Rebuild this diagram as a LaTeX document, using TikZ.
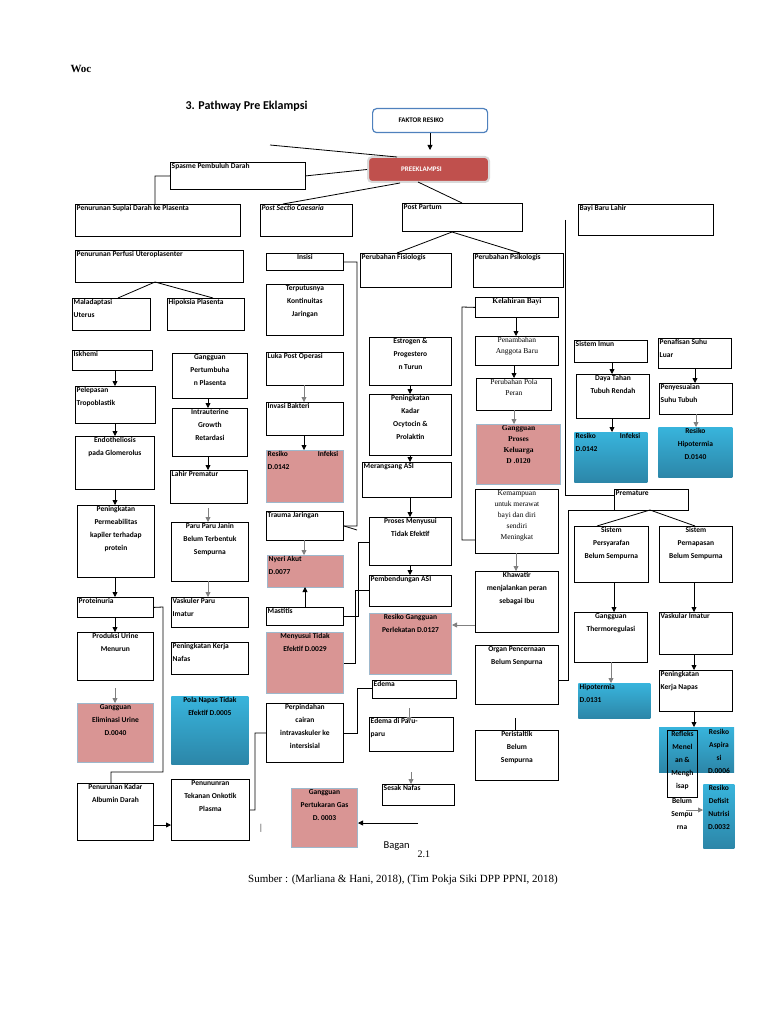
\documentclass[tikz,border=0pt]{standalone}
\usepackage{fontspec}
\setmainfont{Liberation Serif}
\newfontfamily\cb{Carlito}
\usetikzlibrary{arrows.meta}
\definecolor{rd}{HTML}{D99594}
\definecolor{rdb}{HTML}{9DB8CC}
\definecolor{pre}{HTML}{C0504D}
\definecolor{bla}{HTML}{38B4DC}
\definecolor{blb}{HTML}{2C86A8}
\definecolor{fk}{HTML}{4F81BD}
\tikzset{
 bx/.style={draw, line width=0.8pt, inner sep=0pt},
 rb/.style={fill=rd, draw=rdb, line width=1pt},
 bb/.style={top color=bla, bottom color=blb, draw=none},
 lab/.style={inner sep=1.5pt, font=\cb\bfseries\fontsize{7.5}{13}\selectfont},
 slab/.style={inner sep=1.5pt, font=\bfseries\fontsize{7.5}{11}\selectfont},
 ar/.style={-{Triangle[length=5pt,width=5pt]}, line width=0.8pt},
 gar/.style={ar, draw=gray},
 ln/.style={line width=0.8pt}
}
\newcommand\bxl[7]{\node[bx,#6,minimum width=#4,minimum height=#5,anchor=north west,label={[lab,anchor=north west,align=left]north west:{#7}}] (#1) at (#2,#3) {};}
\newcommand\bxc[7]{\node[bx,#6,minimum width=#4,minimum height=#5,anchor=north west,label={[lab,anchor=north,align=center]north:{#7}}] (#1) at (#2,#3) {};}
\newcommand\bxs[7]{\node[bx,#6,minimum width=#4,minimum height=#5,anchor=north west,label={[slab,anchor=north,align=center]north:{#7}}] (#1) at (#2,#3) {};}
\begin{document}
\begin{tikzpicture}[x=1pt,y=-1pt]
\useasboundingbox (0,0) rectangle (768,1024);
\node[anchor=west,font=\bfseries\fontsize{11}{13}\selectfont] (woc) at (67,69) {Woc};
\node[anchor=west,font=\cb\bfseries\fontsize{12}{14}\selectfont] (title) at (182,106) {3. Pathway Pre Eklampsi};
% top
\node[draw=fk,line width=1.2pt,rounded corners=4pt,minimum width=115,minimum height=24,anchor=north west,font=\cb\bfseries\fontsize{7}{9}\selectfont] (fr) at (372,108) {FAKTOR RESIKO\hspace*{18pt}};
\node[fill=pre,draw=gray!30,line width=2pt,rounded corners=4pt,minimum width=121,minimum height=25,anchor=north west,text=white,font=\cb\bfseries\fontsize{7}{9}\selectfont] (pe) at (367,156) {PREEKLAMPSI\hspace*{14pt}};
\draw[ar] (fr.south -| 430,0) -- (430,150);
\coordinate (free1) at (270,145);
\draw[ln] (free1) -- (397,157);
\bxl{sp}{170}{162}{135}{27}{}{Spasme Pembuluh Darah}
\draw[ln] (sp.east) -- (pe.west);
\bxl{ps}{75}{204}{165}{32}{}{Penurunan Suplai Darah ke Plasenta}
\draw[ln] (sp.west) -- (155,176) -- (155,204);
\bxl{psc}{260}{204}{92}{32}{}{\itshape Post Sectio Caesaria}
\draw[ln] (400,183) -- (283,204);
\bxl{pp}{402}{203}{120}{28}{}{Post Partum}
\draw[ln] (418,182) -- (462,203);
\bxl{bbl}{578}{204}{135}{31}{}{Bayi Baru Lahir}
% left
\bxl{ppu}{75}{250}{168}{32}{}{Penurunan Perfusi Uteroplasenter}
\bxl{mal}{72}{298}{78}{32}{}{Maladaptasi\\Uterus}
\bxl{hip}{167}{298}{77}{32}{}{Hipoksia Plasenta}
\draw[ln] (155,282) -- (118,298); \draw[ln] (155,282) -- (213,298);
\bxl{isk}{72}{350}{80}{20}{}{Iskhemi}
\bxl{pel}{75}{386}{80}{37}{}{Pelepasan\\Tropoblastik}
\bxc{end}{75}{436}{79}{53}{}{Endotheliosis\\pada Glomerolus}
\bxc{pkp}{77}{505}{77}{72}{}{Peningkatan\\Permeabilitas\\kapiler terhadap\\protein}
\bxl{pro}{77}{597}{76}{20}{}{Proteinuria}
\bxc{pum}{77}{632}{76}{48}{}{Produksi Urine\\Menurun}
\bxc{geu}{77}{703}{76}{59}{rb}{Gangguan\\Eliminasi Urine\\D.0040}
\bxc{pka}{77}{783}{76}{57}{}{Penurunan Kadar\\Albumin Darah}
\draw[ar] (115,370) -- (115,386);
\draw[ar] (115,423) -- (115,436);
\draw[ar] (115,489) -- (115,505);
\draw[ar] (115,577) -- (115,597);
\draw[ar] (115,617) -- (115,632);
\draw[gar] (115,688) -- (115,703);
\draw[ln] (pro.east) -- (163,607) -- (163,772) -- (111,772) -- (111,783);
% mid-left
\bxc{gpp}{172}{353}{75}{45}{}{Gangguan\\Pertumbuha\\n Plasenta}
\bxc{igr}{172}{408}{75}{48}{}{Intrauterine\\Growth\\Retardasi}
\bxl{lpr}{170}{470}{77}{33}{}{Lahir Prematur}
\bxc{ppj}{171}{522}{77}{59}{}{Paru Paru Janin\\Belum Terbentuk\\Sempurna}
\bxl{vpi}{171}{597}{77}{30}{}{Vaskuler Paru\\Imatur}
\bxl{pkn}{171}{642}{77}{32}{}{Peningkatan Kerja\\Nafas}
\bxc{pnt}{171}{696}{77}{68}{bb}{Pola Napas Tidak\\Efektif D.0005}
\bxc{pto}{171}{779}{78}{61}{}{Penununran\\Tekanan Onkotik\\Plasma}
\draw[ar] (208,398) -- (208,408);
\draw[ar] (208,456) -- (208,470);
\draw[gar] (208,508) -- (208,522);
\draw[gar] (208,581) -- (208,597);
\draw[ar] (pka.east |- 0,825) -- (pto.west |- 0,825);
% col 3
\bxc{ins}{266}{253}{77}{17}{}{Insisi}
\bxc{tkj}{266}{284}{77}{51}{}{Terputusnya\\Kontinuitas\\Jaringan}
\bxl{lpo}{266}{352}{77}{33}{}{Luka Post Operasi}
\bxl{ivb}{266}{402}{77}{33}{}{Invasi Bakteri}
\bxl{rif}{266}{450}{77}{52}{rb}{Resiko\hspace{30pt}Infeksi\\D.0142}
\bxl{trj}{266}{511}{77}{29}{}{Trauma Jaringan}
\bxl{nya}{267}{555}{76}{32}{rb}{Nyeri Akut\\D.0077}
\bxl{mas}{266}{607}{77}{18}{}{Mastitis}
\bxc{mte}{266}{632}{77}{61}{rb}{Menyusui Tidak\\Efektif D.0029}
\bxc{pci}{266}{703}{77}{59}{}{Perpindahan\\cairan\\intravaskuler ke\\intersisial}
\bxc{gpg}{291}{788}{66}{59}{rb}{Gangguan\\Pertukaran Gas\\D. 0003}
\node[font=\fontsize{9}{10}\selectfont] (bar) at (261,828) {|};
\draw[gar] (304,385) -- (304,402);
\draw[ar] (304,435) -- (304,450);
\draw[gar] (304,540) -- (304,555);
\draw[ar] (305,607) -- (305,587);
\draw[ln] (ins.east) -- (357,262) |- (trj.east);
\draw[ln] (pci.west) -- (255,733) |- (pto.east);
% col 4
\bxl{pfi}{360}{253}{91}{34}{}{Perubahan Fisiologis}
\bxl{pps}{473}{253}{90}{34}{}{Perubahan Psikologis}
\draw[ln] (452,232) -- (397,253); \draw[ln] (452,232) -- (520,253);
\bxc{ept}{369}{337}{82}{48}{}{Estrogen \&\\Progestero\\n Turun}
\bxc{pko}{369}{394}{82}{61}{}{Peningkatan\\Kadar\\Ocytocin \&\\Prolaktin}
\bxl{mas2}{362}{462}{89}{35}{}{Merangsang ASI}
\bxc{pmt}{369}{517}{82}{48}{}{Proses Menyusui\\Tidak Efektif}
\bxl{pas}{369}{575}{82}{31}{}{Pembendungan ASI}
\bxc{rgp}{369}{613}{82}{61}{rb}{Resiko Gangguan\\Perlekatan D.0127}
\bxl{ede}{372}{680}{84}{18}{}{Edema}
\bxl{edp}{369}{717}{84}{34}{}{Edema di Paru-\\paru}
\bxl{ssn}{382}{784}{72}{21}{}{Sesak Nafas}
\draw[ar] (410,385) -- (410,394);
\draw[ar] (410,455) -- (410,462);
\draw[ar] (410,497) -- (410,517);
\draw[ar] (410,565) -- (410,575);
\draw[gar] (409,708) -- (409,722);
\draw[gar] (411,772) -- (411,784);
\draw[ln] (trj.east) -- (357,530);
\draw[ln] (pmt.west |- 0,542) -- (358,542) |- (mas.east);
\draw[ln] (pas.west |- 0,590) -- (355,590) |- (mte.east);
\draw[ln] (ede.west |- 0,688) -- (357,688) |- (pci.east);
\coordinate (free2) at (418,823);
\draw[ar] (free2) -- (gpg.east |- free2);
% col 5
\bxs{klb}{475}{297}{83}{20}{}{Kelahiran Bayi}
\bxs{pab}{475}{336}{83}{29}{}{\mdseries Penambahan\\\mdseries Anggota Baru}
\bxs{ppr}{476}{378}{75}{32}{}{\mdseries Perubahan Pola\\\mdseries Peran}
\bxs{gpk}{476}{424}{84}{60}{rb}{Gangguan\\Proses\\Keluarga\\D .0120}
\bxs{kmr}{475}{489}{83}{64}{}{\mdseries Kemampuan\\\mdseries untuk merawat\\\mdseries bayi dan diri\\\mdseries sendiri\\\mdseries Meningkat}
\bxc{kmp}{475}{571}{83}{61}{}{Khawatir\\menjalankan peran\\sebagai Ibu}
\bxc{opb}{475}{645}{83}{59}{}{Organ Pencernaan\\Belum Senpurna}
\bxc{pbs}{475}{730}{83}{50}{}{Peristaltik\\Belum\\Sempurna}
\draw[ar] (516,317) -- (516,336);
\draw[ar] (514,365) -- (514,378);
\draw[gar] (514,410) -- (514,424);
\draw[gar] (516,553) -- (516,571);
\draw[ln] (515,718) -- (pbs.north -| 515,0);
\draw[gar] (kmp.west |- 0,625) -- (rgp.east |- 0,625);
\draw[ln] (klb.west) -- (462,307) |- (kmr.west |- 0,540);
% right
\bxl{sim}{574}{340}{73}{22}{}{Sistem Imun}
\bxc{dtt}{576}{374}{73}{44}{}{Daya Tahan\\Tubuh Rendah}
\bxl{rif2}{574}{432}{73}{50}{bb}{Resiko\hspace{24pt}Infeksi\\D.0142}
\bxl{psl}{658}{338}{73}{30}{}{Penafisan Suhu\\Luar}
\bxl{pst}{659}{383}{73}{31}{}{Penyesuaian\\Suhu Tubuh}
\bxc{rhp}{658}{427}{74}{50}{bb}{Resiko\\Hipotermia\\D.0140}
\draw[ar] (612,362) -- (612,374);
\draw[ar] (612,418) -- (612,432);
\draw[ar] (695,368) -- (695,383);
\draw[gar] (696,414) -- (696,427);
\bxl{prm}{614}{489}{74}{21}{}{Premature}
\draw[ln] (565,220) -- (565,495) -- (prm.west |- 0,495);
\draw[ln] (opb.east |- 0,680) -- (568,680) |- (prm.south west);
\bxc{spb}{574}{526}{74}{56}{}{Sistem\\Persyarafan\\Belum Sempurna}
\bxc{snb}{659}{526}{73}{56}{}{Sistem\\Pernapasan\\Belum Sempurna}
\draw[ln] (650,510) -- (597,526); \draw[ln] (650,510) -- (695,526);
\bxc{gth}{574}{612}{73}{50}{}{Gangguan\\Thermoregulasi}
\bxl{hpt}{578}{683}{72}{35}{bb}{Hipotermia\\D.0131}
\bxl{vim}{659}{612}{73}{42}{}{Vaskular Imatur}
\bxl{pkj}{659}{670}{73}{41}{}{Peningkatan\\Kerja Napas}
\draw[ar] (614,582) -- (614,612);
\draw[gar] (611,662) -- (611,683);
\draw[ar] (694,582) -- (694,612);
\draw[ar] (694,654) -- (694,670);
\node[bb,minimum width=75,minimum height=45,anchor=north west] (blu) at (659,727) {};
\draw[ar] (694,711) -- (694,727);
\bxc{rmm}{667}{730}{30}{67}{fill=none}{Refleks\\Menel\\an \&\\Mengh\\isap}
\node[lab,anchor=north,align=center] (bsr) at (682,797) {Belum\\Sempu\\rna};
\node[lab,anchor=north,align=center] (ras) at (719,728) {Resiko\\Aspira\\si\\D.0006};
\bxc{rdn}{703}{784}{31}{64}{bb}{Resiko\\Defisit\\Nutrisi\\D.0032}
\draw[gar] (686,810) -- (rdn.west |- 0,810);
% bottom
\node[anchor=west,font=\cb\fontsize{10.5}{12}\selectfont] (bag) at (380,846) {Bagan};
\node[anchor=west,font=\fontsize{10}{12}\selectfont] (num) at (414,854) {2.1};
\node[font=\fontsize{11}{13}\selectfont] (src) at (403,880) {Sumber : (Marliana \& Hani, 2018), (Tim Pokja Siki DPP PPNI, 2018)};
\end{tikzpicture}
\end{document}
